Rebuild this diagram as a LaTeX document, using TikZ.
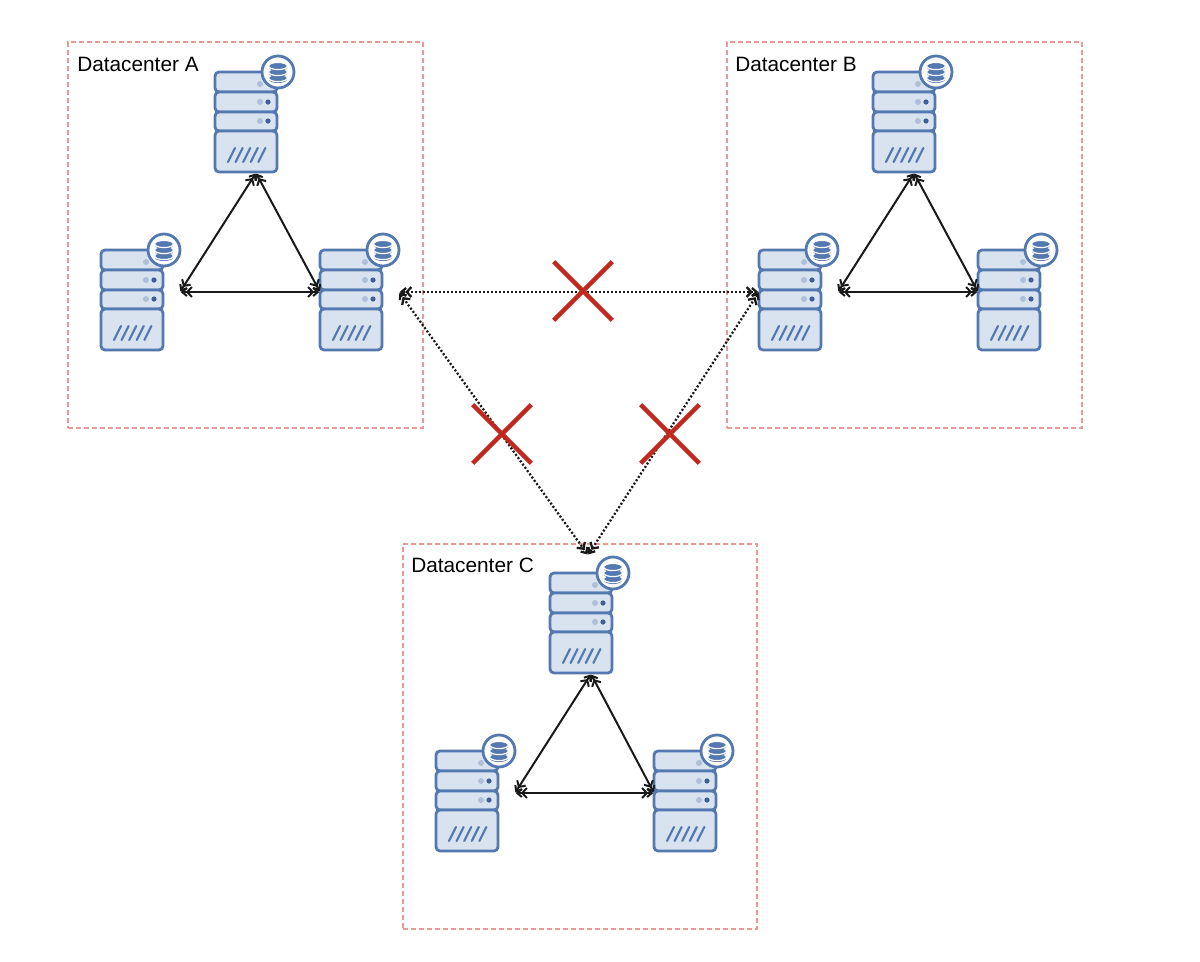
\documentclass[tikz,border=0pt]{standalone}
\usepackage{fontspec}
\setmainfont{Liberation Sans}
\usetikzlibrary{arrows.meta,shapes.misc}
\definecolor{srvfill}{HTML}{D9E2EF}
\definecolor{srvline}{HTML}{5379B0}
\definecolor{srvdark}{HTML}{3F5F94}
\definecolor{srvlight}{HTML}{AEBFD8}
\definecolor{boxred}{HTML}{EA9A95}
\definecolor{xred}{HTML}{C2281E}
\tikzset{
  x=0.75pt,y=-0.75pt,
  row/.style={draw=srvline,fill=srvfill,line width=2.1pt,rounded corners=3pt},
  dc/.style={rectangle,draw=boxred,line width=1.2pt,dash pattern=on 3.75pt off 2.25pt,inner sep=0pt,anchor=north west},
  dclabel/.style={anchor=base west,inner sep=0pt,font=\fontsize{15.6pt}{18pt}\selectfont},
  barb/.tip={Straight Barb[length=3.5pt,width=7.5pt,sep=-1.5pt]Straight Barb[length=3.5pt,width=6pt]},
  link/.style={black!90,line width=1.5pt,{barb}-{barb},shorten <=0.5pt,shorten >=0.5pt},
  wan/.style={link,line width=1.7pt,dash pattern=on 1.5pt off 1.5pt},
  nope/.style={cross out,draw=xred,line width=3.2pt,minimum width=44pt,minimum height=44pt,inner sep=0pt,outer sep=0pt},
  server/.pic={
    \path[row] (0,0) rectangle (62,20);
    \path[row] (0,20) rectangle (62,40);
    \path[row] (0,40) rectangle (62,59);
    \path[row] (0,59) rectangle (62,100);
    \node[inner sep=0pt,minimum size=0pt] (-body) at (31,50) {};
    \fill[srvlight] (45,12) circle (3);
    \fill[srvlight] (45,30) circle (3);
    \fill[srvdark] (53,30) circle (2.6);
    \fill[srvlight] (45,49) circle (3);
    \fill[srvdark] (53,49) circle (2.6);
    \foreach \i in {0,1,2,3,4}
      \draw[srvline,line width=1.6pt,line cap=round] (13+7.6*\i,90) -- (20+7.6*\i,76);
    \draw[srvline,fill=white,line width=2.1pt] (63,0) circle (16);
    \foreach \yy in {6,0,-6} {
      \fill[srvline] (54,\yy) -- (54,\yy+1.5) arc[start angle=180,end angle=360,x radius=9,y radius=-3.5] -- (72,\yy) -- cycle;
      \draw[white,line width=0.9pt,fill=srvline] (63,\yy) ellipse[x radius=9.4,y radius=3.6];
    }
    \coordinate (-bot) at (41,101);
    \coordinate (-west) at (0,42);
    \coordinate (-east) at (79,42);
    \coordinate (-cap) at (38,-18);
  }
}
\begin{document}
\begin{tikzpicture}
\useasboundingbox[fill=white] (0,0) rectangle (1200,961);
% datacenters
\node[dc,minimum width=266.25pt,minimum height=289.5pt] (dcA) at (67,41) {};
\node[dc,minimum width=266.25pt,minimum height=289.5pt] (dcB) at (726,41) {};
\node[dc,minimum width=265.5pt,minimum height=288.75pt] (dcC) at (402,543) {};
\node[dclabel] (la) at (77,71) {Datacenter A};
\node[dclabel] (lb) at (735,71) {Datacenter B};
\node[dclabel] (lc) at (411,572) {Datacenter C};
% servers
\pic (a1) at (215,72) {server};
\pic (a2) at (101,250) {server};
\pic (a3) at (320,250) {server};
\pic (b1) at (873,72) {server};
\pic (b2) at (759,250) {server};
\pic (b3) at (978,250) {server};
\pic (c1) at (550,573) {server};
\pic (c2) at (436,751) {server};
\pic (c3) at (654,751) {server};
% local links
\foreach \d in {a,b,c} {
  \draw[link] (\d1-bot) -- (\d2-east);
  \draw[link] (\d1-bot) -- (\d3-west);
  \draw[link] (\d2-east) -- (\d3-west);
}
% inter-datacenter links
\draw[wan] (a3-east) -- (b2-west);
\draw[wan] (a3-east) -- (c1-cap);
\draw[wan] (b2-west) -- (c1-cap);
% crosses
\node[nope] (x1) at (583,291) {};
\node[nope] (x2) at (502,434) {};
\node[nope] (x3) at (670,434) {};
\end{tikzpicture}
\end{document}
